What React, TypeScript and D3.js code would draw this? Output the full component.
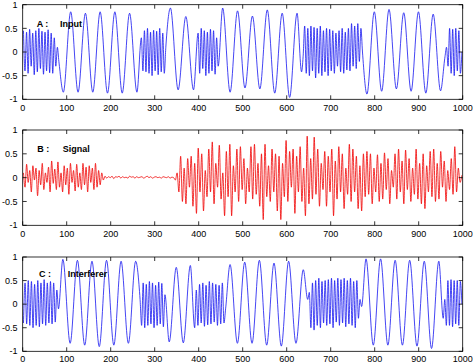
import * as d3 from "d3";

const W = 474;
const H = 363;

const xTicks = [0, 100, 200, 300, 400, 500, 600, 700, 800, 900, 1000];
const yTicks = [-1, -0.5, 0, 0.5, 1];
const yTickLabels = ["-1", "-0.5", "0", "0.5", "1"];

// each series: segment breaks on the sample axis, and the turning points read inside each segment
const inputBreaks = [0, 84, 268, 327, 397, 446, 632, 774, 958, 1000];
const inputTurns = [
  [0.45, -0.4, 0.42, -0.45, 0.48, -0.3, 0.4, -0.48, 0.45, -0.42, 0.5, -0.35, 0.44, -0.47, 0.42, -0.4, 0.47, -0.44, 0.4, -0.45, 0.3, -0.3, 0.1, -0.2],
  [-0.85, 0.85, -0.85, 0.82, -0.85, 0.85, -0.87, 0.85, -0.87, 0.82, -0.85],
  [0.3, -0.4, 0.45, -0.42, 0.5, -0.45, 0.42, -0.5, 0.46, -0.4, 0.44, -0.48, 0.5, -0.42, 0.4, -0.45, 0.1],
  [0.93, -0.8, 0.75, -0.8],
  [0.4, -0.45, 0.5, -0.35, 0.45, -0.5, 0.42, -0.45, 0.48, -0.4, 0.45, -0.47, 0.3, -0.3],
  [0.93, -0.85, 0.87, -0.76, 0.76, -0.78, 0.89, -0.87, 0.82, -0.96, 0.82],
  [-0.42, -0.1, 0.55, -0.45, 0.5, -0.5, 0.55, -0.4, 0.52, -0.55, 0.5, -0.45, 0.55, -0.5, 0.45, -0.42, 0.5, -0.5, 0.48, -0.4,
   0.45, -0.45, 0.4, -0.3, 0.45, -0.42, 0.5, -0.45, 0.42, -0.38, 0.5, -0.4, 0.6, -0.3, 0.55, -0.35, 0.6, -0.2, 0.5, 0.0],
  [-0.89, 0.85, -0.83, 0.9, -0.78, 0.83, -0.83, 0.85, -0.87, 0.8, -0.82],
  [-0.1, 0.1, -0.3, 0.5, -0.45, 0.48, -0.5, 0.5, -0.4, 0.45, -0.45, 0.0],
];

const signalBreaks = [0, 185, 345, 1000];
const signalTurns = [
  [0.1, -0.2, 0.28, -0.1, 0.15, -0.3, 0.25, -0.05, 0.2, -0.38, 0.15, -0.15, 0.3, -0.25, 0.1, -0.1, 0.22, -0.3, 0.35, -0.12,
   0.18, -0.25, 0.33, -0.2, 0.1, -0.3, 0.25, -0.15, 0.2, -0.35, 0.3, -0.1, 0.15, -0.28, 0.28, -0.2, 0.1, -0.25, 0.3, -0.15,
   0.22, -0.3, 0.25, -0.1, 0.2, -0.25, 0.3, -0.2, 0.15, -0.15, 0.1, -0.05],
  [0.03, -0.01, 0.02, 0, 0.03, -0.02, 0.02, 0.01, 0.03, -0.01, 0.02, 0, 0.01, -0.01, 0.03, 0.01, 0.02, -0.01, 0.02, 0,
   0.01, 0.02, -0.01, 0.01, 0.03, 0, 0.02, -0.01, 0.01, 0.02, 0, 0.01, -0.01, 0.02, 0.01, 0, 0.02, -0.01, 0.01, 0],
  [-0.05, 0.1, -0.3, 0.45, -0.5, 0.2, -0.55, 0.4, -0.2, 0.45,
   -0.6, 0.3, -0.75, 0.62, -0.3, 0.5, -0.7, 0.15, -0.4, 0.6,
   -0.3, 0.75, -0.55, 0.3, -0.2, 0.68, -0.45, 0.1, -0.8, 0.55,
   -0.4, 0.7, -0.8, 0.25, -0.3, 0.6, -0.5, 0.65, -0.25, 0.4,
   -0.55, 0.2, -0.3, 0.65, -0.45, 0.7, -0.35, 0.3, -0.6, 0.5,
   -0.88, 0.7, -0.4, 0.25, -0.5, 0.6, -0.3, 0.5, -0.7, 0.45,
   -0.88, 0.3, -0.4, 0.78, -0.5, 0.55, -0.2, 0.6, -0.75, 0.45,
   -0.3, 0.65, -0.5, 0.2, -0.8, 0.87, -0.55, 0.4, -0.45, 0.85,
   -0.35, 0.6, -0.6, 0.3, -0.25, 0.55, -0.6, 0.45, -0.3, 0.6,
   -0.8, 0.35, -0.45, 0.65, -0.3, 0.5, -0.65, 0.2, -0.35, 0.7,
   -0.5, 0.6, -0.3, 0.45, -0.65, 0.25, -0.7, 0.5, -0.4, 0.55,
   -0.35, 0.5, -0.55, 0.2, -0.3, 0.48, -0.5, 0.3, -0.45, 0.52,
   -0.25, 0.4, -0.55, 0.15, -0.2, 0.5, -0.45, 0.6, -0.3, 0.35,
   -0.55, 0.58, -0.25, 0.4, -0.5, 0.2, -0.35, 0.6, -0.45, 0.3,
   -0.55, 0.5, -0.65, 0.25, -0.3, 0.55, -0.4, 0.6, -0.5, 0.3,
   -0.45, 0.55, -0.2, 0.35, -0.5, 0.15, -0.25, 0.4, -0.35, 0.65,
   -0.3, 0.2, -0.1, 0.05],
];

const interfererBreaks = [0, 83, 265, 325, 389, 463, 646, 772, 954, 1000];
const interfererTurns = [
  [-0.4, 0.45, -0.42, 0.5, -0.45, 0.48, -0.5, 0.42, -0.45, 0.5, -0.48, 0.45, -0.42, 0.52, -0.45, 0.45, -0.4, 0.48, -0.42, 0.45, -0.38, 0.3, -0.1],
  [0.95, -0.83, 0.93, -0.87, 0.91, -0.9, 0.93, -0.87, 0.91, -0.83, 0.91],
  [0.1, -0.45, 0.45, -0.5, 0.42, -0.45, 0.48, -0.42, 0.45, -0.5, 0.4, -0.45, 0.47, -0.42, 0.44, -0.48, 0.2],
  [-0.8, 0.78, -0.82, 0.82],
  [-0.5, 0.3, -0.45, 0.42, -0.4, 0.45, -0.47, 0.4, -0.44, 0.48, -0.42, 0.45, -0.38, 0.42, -0.45, 0.4, -0.42, 0.45, -0.4, -0.1],
  [0.84, -0.83, 0.89, -0.83, 0.93, -0.87, 0.87, -0.89, 0.91, -0.83, 0.73],
  [0.1, 0.25, -0.5, 0.45, -0.55, 0.5, -0.45, 0.55, -0.5, 0.48, -0.4, 0.5, -0.45, 0.52, -0.42, 0.55, -0.5, 0.5, -0.38, 0.55,
   -0.45, 0.52, -0.4, 0.55, -0.48, 0.5, -0.42, 0.55, -0.45, 0.48, -0.5, 0.5, -0.3, 0.1, -0.05],
  [0.96, -0.87, 0.96, -0.87, 0.93, -0.87, 0.93, -0.89, 0.91, -0.94, 0.91],
  [-0.3, 0.1, -0.45, 0.5, -0.45, 0.52, -0.48, 0.5, -0.42, 0.5, -0.45, 0.48, 0.0],
];

// place turning points evenly inside their segment
function toPoints(breaks: number[], turns: number[][]): [number, number][] {
  const pts: [number, number][] = [];
  turns.forEach((seg, s) => {
    const a = breaks[s];
    const step = (breaks[s + 1] - a) / seg.length;
    seg.forEach((v, i) => pts.push([a + (i + 0.5) * step, v]));
  });
  return pts;
}

const x = d3.scaleLinear().domain([0, 1000]).range([22.7, 462.7]);
const font = "'Liberation Sans', Arial, Helvetica, sans-serif";

const Panel = ({ id, top, bottom, tickDy, tag, name, tagX, nameX, labelDy, color, points }) => {
  const y = d3.scaleLinear().domain([-1, 1]).range([bottom, top]);
  const line = d3
    .line<[number, number]>()
    .x((d) => x(d[0]))
    .y((d) => y(d[1]))
    .curve(d3.curveMonotoneX);
  const x0 = x(0);
  const x1 = x(1000);
  const tk = 4;

  return (
    <g>
      <defs>
        <clipPath id={`clip-${id}`}>
          <rect x={x0} y={top} width={x1 - x0} height={bottom - top} />
        </clipPath>
      </defs>
      <rect x={x0} y={top} width={x1 - x0} height={bottom - top} fill="white" />
      <path
        d={line(points)}
        fill="none"
        stroke={color}
        strokeWidth={0.8}
        clipPath={`url(#clip-${id})`}
      />
      <rect x={x0} y={top} width={x1 - x0} height={bottom - top} fill="none" stroke="black" strokeWidth={0.8} />

      {xTicks.map((t) => (
        <g key={t}>
          <line x1={x(t)} x2={x(t)} y1={bottom} y2={bottom - tk} stroke="black" strokeWidth={0.8} />
          <line x1={x(t)} x2={x(t)} y1={top} y2={top + tk} stroke="black" strokeWidth={0.8} />
          <text x={x(t)} y={bottom + tickDy} textAnchor="middle" fontSize={9} fontFamily={font}>
            {t}
          </text>
        </g>
      ))}

      {yTicks.map((t, i) => (
        <g key={t}>
          <line x1={x0} x2={x0 + tk} y1={y(t)} y2={y(t)} stroke="black" strokeWidth={0.8} />
          <line x1={x1} x2={x1 - tk} y1={y(t)} y2={y(t)} stroke="black" strokeWidth={0.8} />
          <text x={17.5} y={y(t)} dy="0.35em" textAnchor="end" fontSize={9} fontFamily={font}>
            {yTickLabels[i]}
          </text>
        </g>
      ))}

      <text x={tagX} y={top + labelDy} fontSize={9} fontWeight="bold" fontFamily={font}>
        {tag}
      </text>
      <text x={nameX} y={top + labelDy} fontSize={9} fontWeight="bold" fontFamily={font}>
        {name}
      </text>
    </g>
  );
};

export default function App() {
  const panels = [
    { id: "a", top: 4.7, bottom: 99.3, tickDy: 11.5, tag: "A :", name: "Input", tagX: 36.7, nameX: 60, labelDy: 22.7, color: "#1515f0", points: toPoints(inputBreaks, inputTurns) },
    { id: "b", top: 130, bottom: 225.3, tickDy: 11.3, tag: "B :", name: "Signal", tagX: 37.3, nameX: 62.7, labelDy: 22.2, color: "#f00000", points: toPoints(signalBreaks, signalTurns) },
    { id: "c", top: 257, bottom: 351.3, tickDy: 10.4, tag: "C :", name: "Interferer", tagX: 39, nameX: 67.7, labelDy: 20, color: "#1515f0", points: toPoints(interfererBreaks, interfererTurns) },
  ];

  return (
    <svg
      width={W}
      height={H}
      style={{ position: "absolute", left: 0, top: 0, display: "block", background: "white" }}
    >
      {panels.map((p) => (
        <Panel key={p.id} {...p} />
      ))}
    </svg>
  );
}
